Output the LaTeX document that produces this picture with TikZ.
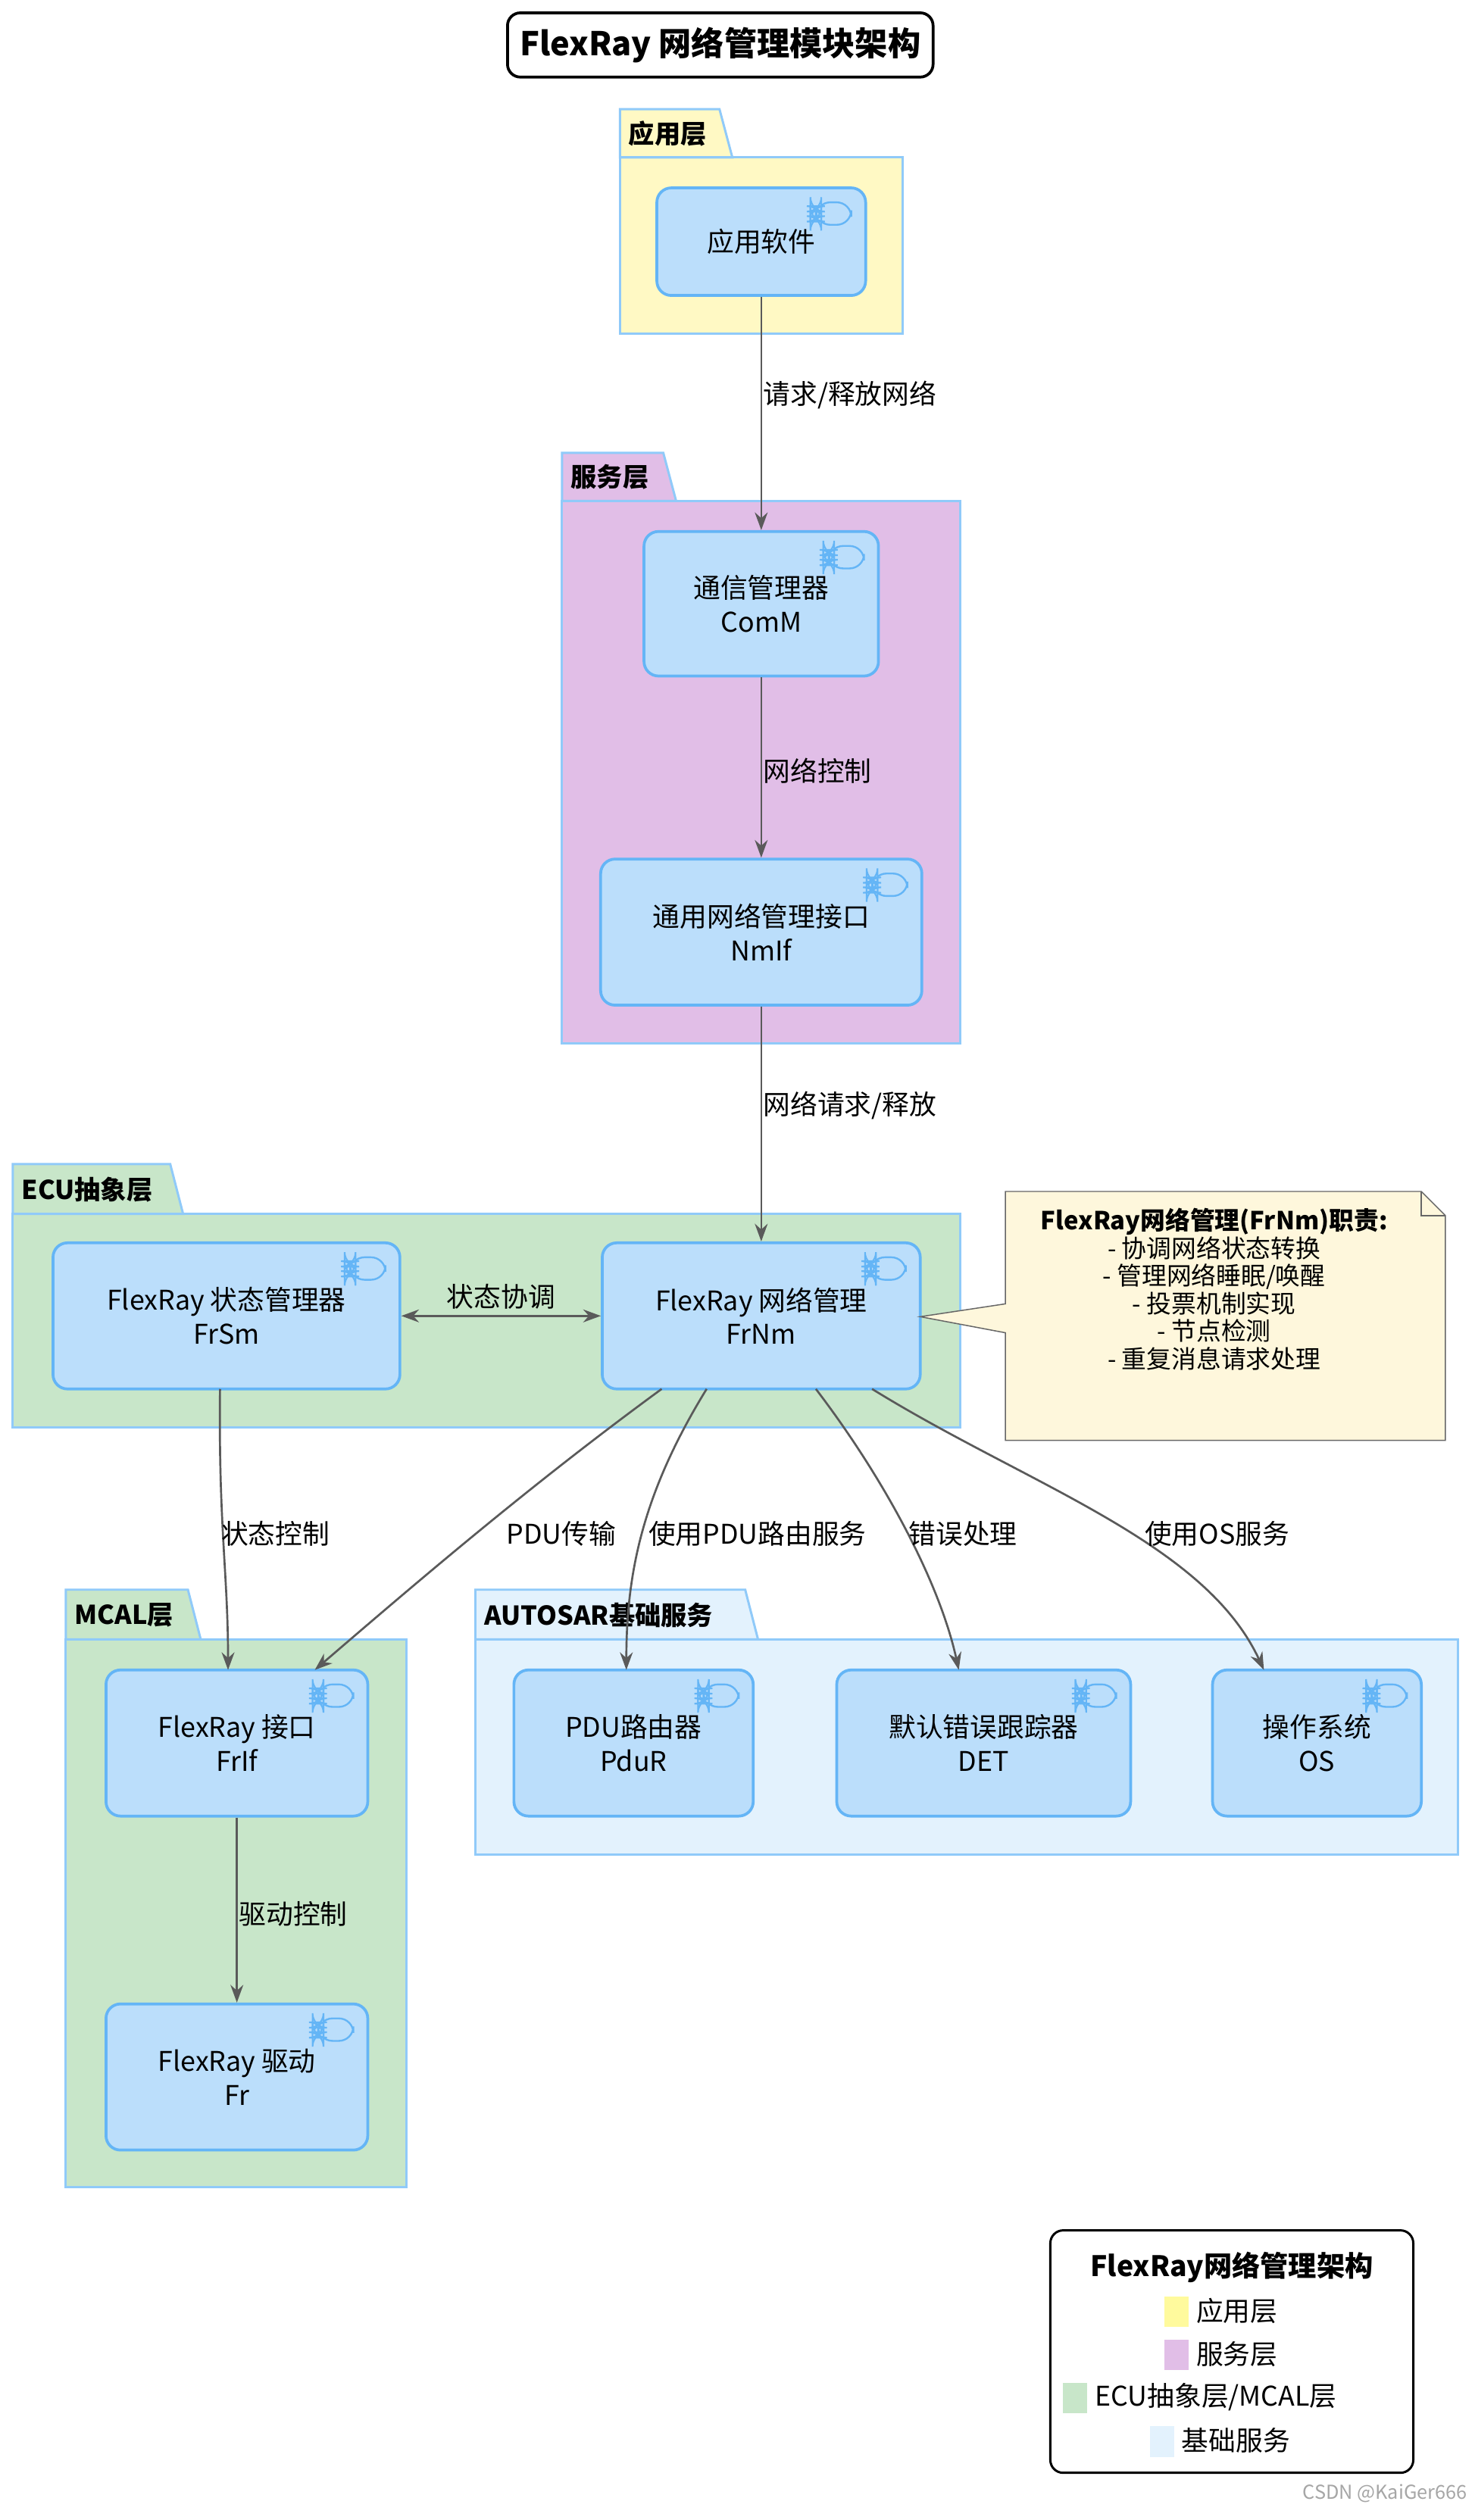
\documentclass[tikz,border=0pt]{standalone}
\usepackage{fontspec}
\setmainfont{Noto Sans CJK SC}
\usetikzlibrary{arrows.meta,calc}
\definecolor{nodefill}{HTML}{BBDEFB}
\definecolor{nodeline}{HTML}{64B5F6}
\definecolor{pkgline}{HTML}{90CAF9}
\definecolor{appc}{HTML}{FFF9C4}
\definecolor{svcc}{HTML}{E1BEE7}
\definecolor{ecuc}{HTML}{C8E6C9}
\definecolor{basc}{HTML}{E3F2FD}
\definecolor{notec}{HTML}{FEF7DC}
\definecolor{arr}{HTML}{5A5A5A}
\begin{document}
\begin{tikzpicture}[x=0.05cm,y=-0.05cm,
  txt/.style={font=\fontsize{24}{30}\selectfont},
  comp/.style 2 args={draw=nodeline,fill=nodefill,line width=2.5pt,rounded corners=0.45cm,
    minimum width=#1*0.05cm,minimum height=#2*0.05cm,align=center,txt,inner sep=0pt,
    path picture={\draw[nodeline,line width=1.6pt,fill=nodefill]
      ($(path picture bounding box.north east)+(-1.55cm,-0.45cm)$) rectangle ++(1.1cm,-0.7cm);
      \draw[nodeline,line width=1.4pt,fill=nodefill]
      ($(path picture bounding box.north east)+(-1.72cm,-0.57cm)$) rectangle ++(0.34cm,-0.17cm);
      \draw[nodeline,line width=1.4pt,fill=nodefill]
      ($(path picture bounding box.north east)+(-1.72cm,-0.88cm)$) rectangle ++(0.34cm,-0.17cm);}},
  pkg/.style={draw=pkgline,line width=2pt},
  plabel/.style={font=\fontsize{23}{28}\selectfont\bfseries,anchor=west},
  lab/.style={txt,anchor=west,inner sep=1pt},
  ar/.style={draw=arr,line width=1.8pt,-{Stealth[length=0.55cm,width=0.4cm]}}
]
\useasboundingbox[fill=white] (0,0) rectangle (918,1569.4);
% title
\node[draw,line width=2.5pt,rounded corners=0.4cm,minimum width=265*0.05cm,minimum height=40*0.05cm,
  font=\fontsize{29}{34}\selectfont\bfseries] (title) at (448.5,28) {FlexRay 网络管理模块架构};
% packages
\newcommand{\pkgdraw}[7]{% x0 x1 ytab ybody y1 tabR color
  \fill[#7] (#1,#4) rectangle (#2,#5);
  \filldraw[pkg,fill=#7] (#1,#4) -- (#1,#3) -- (#6,#3) -- (#6+8,#4) -- cycle;
  \draw[pkg] (#1,#4) rectangle (#2,#5);}
\pkgdraw{386}{562}{68}{98}{208}{448}{appc}
\node[plabel] (papp) at (389,83) {应用层};
\pkgdraw{350}{598}{282}{312}{650}{413}{svcc}
\node[plabel] (psvc) at (353,297) {服务层};
\pkgdraw{8}{598}{725}{756}{889}{106}{ecuc}
\node[plabel] (pecu) at (11,741) {ECU抽象层};
\pkgdraw{41}{253}{990}{1021}{1362}{117}{ecuc}
\node[plabel] (pmcal) at (44,1006) {MCAL层};
\pkgdraw{296}{908}{990}{1021}{1155}{464}{basc}
\node[plabel] (pbas) at (299,1006) {AUTOSAR基础服务};
% components
\node[comp={130}{67}] (app) at (474,150.5) {应用软件};
\node[comp={146}{90}] (comm) at (474,376) {通信管理器\\ComM};
\node[comp={200}{91}] (nmif) at (474,580.5) {通用网络管理接口\\NmIf};
\node[comp={216}{91}] (frsm) at (141,819.5) {FlexRay 状态管理器\\FrSm};
\node[comp={198}{91}] (frnm) at (474,819.5) {FlexRay 网络管理\\FrNm};
\node[comp={163}{91}] (frif) at (147.5,1085.5) {FlexRay 接口\\FrIf};
\node[comp={163}{91}] (fr) at (147.5,1293.5) {FlexRay 驱动\\Fr};
\node[comp={149}{91}] (pdur) at (394.5,1085.5) {PDU路由器\\PduR};
\node[comp={183}{91}] (det) at (612.5,1085.5) {默认错误跟踪器\\DET};
\node[comp={130}{91}] (os) at (820,1085.5) {操作系统\\OS};
% note
\coordinate (nt) at (573,820);
\filldraw[draw=gray!80!black,fill=notec,line width=1pt] (626,742) -- (885,742) -- (900,757) -- (900,897) -- (626,897) -- (626,830) -- (nt) -- (626,812) -- cycle;
\draw[gray!80!black,line width=1pt] (885,742) -- (885,757) -- (900,757);
\node[align=center,font=\fontsize{22}{24.5}\selectfont,anchor=north] (note) at (756,750)
 {\textbf{FlexRay网络管理(FrNm)职责:}\\- 协调网络状态转换\\- 管理网络睡眠/唤醒\\- 投票机制实现\\- 节点检测\\- 重复消息请求处理};
% connectors
\draw[ar] (app.south) -- (comm.north) node[lab,pos=0.42] (l1) {请求/释放网络};
\draw[ar] (comm.south) -- (nmif.north) node[lab,pos=0.52] (l2) {网络控制};
\draw[ar] (nmif.south) -- (frnm.north) node[lab,pos=0.42] (l3) {网络请求/释放};
\draw[draw=arr,line width=1.8pt,{Stealth[length=0.55cm,width=0.4cm]}-{Stealth[length=0.55cm,width=0.4cm]}] (frsm.east) -- (frnm.east -| frnm.west) node[midway,above,txt,yshift=2pt] (l4) {状态协调};
\coordinate (s1) at (137,865);
\draw[ar] (s1) .. controls (136,950) and (142,980) .. (142,1040) coordinate (e1);
\node[lab] (l5) at (137,955) {状态控制};
\draw[ar] (frif.south) -- (fr.north) node[lab,pos=0.52] (l6) {驱动控制};
\coordinate (s2) at (412,865); \coordinate (e2) at (196,1040);
\draw[ar] (s2) .. controls (330,925) and (260,985) .. (e2);
\node[txt,anchor=east] (l7) at (386,955) {PDU传输};
\coordinate (s3) at (440,865); \coordinate (e3) at (390,1040);
\draw[ar] (s3) .. controls (400,930) and (390,980) .. (e3);
\node[lab] (l8) at (403,955) {使用PDU路由服务};
\coordinate (s4) at (508,865); \coordinate (e4) at (597,1040);
\draw[ar] (s4) .. controls (550,920) and (585,985) .. (e4);
\node[lab] (l9) at (565,955) {错误处理};
\coordinate (s5) at (543,865); \coordinate (e5) at (787,1040);
\draw[ar] (s5) .. controls (640,925) and (750,960) .. (e5);
\node[lab] (l10) at (712,955) {使用OS服务};
% legend
\node[draw,line width=2pt,rounded corners=0.4cm,minimum width=226*0.05cm,minimum height=151*0.05cm] (leg) at (767,1464.5) {};
\node[font=\fontsize{25}{30}\selectfont\bfseries] (lt) at (767,1412) {FlexRay网络管理架构};
\fill[appc!80!yellow] (725,1430) rectangle ++(15,19);
\node[lab] (la) at (744,1439) {应用层};
\fill[svcc] (725,1457) rectangle ++(15,19);
\node[lab] (lb) at (744,1466) {服务层};
\fill[ecuc] (662,1484) rectangle ++(15,19);
\node[lab] (lc) at (681,1493) {ECU抽象层/MCAL层};
\fill[basc] (716,1511) rectangle ++(15,19);
\node[lab] (ld) at (735,1520) {基础服务};
\node[font=\fontsize{17}{20}\selectfont,text=gray!70,anchor=east] (wm) at (916,1553) {CSDN @KaiGer666};
\end{tikzpicture}
\end{document}
